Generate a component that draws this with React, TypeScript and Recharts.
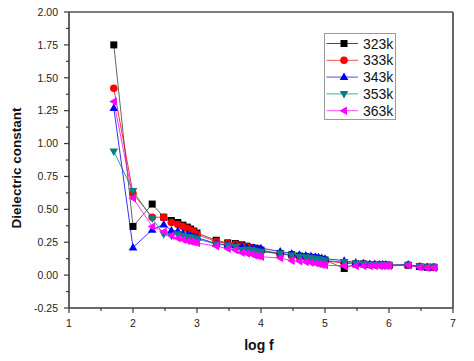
import React from 'react';
import { LineChart, Line, XAxis, YAxis, ReferenceLine } from 'recharts';

const logF = [1.7, 2, 2.3, 2.48, 2.6, 2.7, 2.78, 2.85, 2.9, 2.95, 3, 3.3, 3.48, 3.6, 3.7, 3.78, 3.85, 3.9, 3.95, 4, 4.3, 4.48, 4.6, 4.7, 4.78, 4.85, 4.9, 4.95, 5, 5.3, 5.48, 5.6, 5.7, 5.78, 5.85, 5.9, 5.95, 6, 6.3, 6.48, 6.6, 6.7];

const s323k = [1.75, 0.37, 0.54, 0.44, 0.415, 0.40, 0.38, 0.365, 0.35, 0.335, 0.32, 0.265, 0.245, 0.24, 0.23, 0.22, 0.21, 0.205, 0.20, 0.19, 0.165, 0.155, 0.145, 0.14, 0.135, 0.13, 0.125, 0.12, 0.115, 0.05, 0.085, 0.085, 0.08, 0.08, 0.08, 0.08, 0.075, 0.075, 0.075, 0.065, 0.06, 0.06];
const s333k = [1.42, 0.62, 0.44, 0.44, 0.40, 0.385, 0.37, 0.355, 0.34, 0.33, 0.31, 0.255, 0.24, 0.235, 0.22, 0.215, 0.205, 0.20, 0.195, 0.185, 0.16, 0.15, 0.14, 0.135, 0.13, 0.125, 0.12, 0.115, 0.11, 0.09, 0.085, 0.085, 0.08, 0.08, 0.08, 0.08, 0.075, 0.075, 0.075, 0.065, 0.06, 0.06];
const s343k = [1.27, 0.21, 0.345, 0.385, 0.34, 0.335, 0.32, 0.31, 0.30, 0.295, 0.285, 0.24, 0.23, 0.225, 0.215, 0.21, 0.205, 0.205, 0.20, 0.205, 0.18, 0.165, 0.155, 0.15, 0.145, 0.14, 0.135, 0.13, 0.125, 0.11, 0.095, 0.09, 0.085, 0.085, 0.08, 0.08, 0.08, 0.075, 0.08, 0.065, 0.06, 0.06];
const s353k = [0.94, 0.64, 0.43, 0.31, 0.30, 0.31, 0.30, 0.29, 0.285, 0.28, 0.275, 0.235, 0.225, 0.215, 0.19, 0.195, 0.19, 0.185, 0.18, 0.175, 0.165, 0.15, 0.14, 0.135, 0.13, 0.125, 0.12, 0.115, 0.11, 0.10, 0.09, 0.085, 0.08, 0.08, 0.08, 0.075, 0.075, 0.075, 0.075, 0.065, 0.06, 0.06];
const s363k = [1.32, 0.585, 0.37, 0.33, 0.30, 0.28, 0.27, 0.26, 0.255, 0.25, 0.245, 0.22, 0.20, 0.19, 0.17, 0.165, 0.16, 0.15, 0.145, 0.14, 0.13, 0.11, 0.105, 0.10, 0.095, 0.09, 0.085, 0.08, 0.075, 0.07, 0.07, 0.07, 0.07, 0.07, 0.07, 0.07, 0.07, 0.07, 0.075, 0.06, 0.055, 0.055];

const seriesNames = ['323k', '333k', '343k', '353k', '363k'];
const seriesValues = [s323k, s333k, s343k, s353k, s363k];
const seriesColors = ['#000000', '#ff0000', '#0000ff', '#008080', '#ff00ff'];
const seriesShapes = ['square', 'circle', 'up', 'down', 'left'];

const xTicks = [1, 1.5, 2, 2.5, 3, 3.5, 4, 4.5, 5, 5.5, 6, 6.5, 7];
const yTicks = [-0.25, -0.125, 0, 0.125, 0.25, 0.375, 0.5, 0.625, 0.75, 0.875, 1, 1.125, 1.25, 1.375, 1.5, 1.625, 1.75, 1.875, 2];

const data = logF.map((x, i) => {
  const row: Record<string, number> = { x };
  seriesNames.forEach((n, j) => { row[n] = seriesValues[j][i]; });
  return row;
});

const AXIS = '#3a3a3a';
const FONT = '"Liberation Sans", Arial, sans-serif';

function Marker({ shape, cx, cy, color }: { shape: string; cx: number; cy: number; color: string }) {
  if (shape === 'square') return <rect x={cx - 3.5} y={cy - 3.5} width={7} height={7} fill={color} />;
  if (shape === 'circle') return <circle cx={cx} cy={cy} r={3.8} fill={color} />;
  let pts = '';
  if (shape === 'up') pts = `${cx},${cy - 4.5} ${cx - 4.3},${cy + 3} ${cx + 4.3},${cy + 3}`;
  if (shape === 'down') pts = `${cx},${cy + 4.5} ${cx - 4.3},${cy - 3} ${cx + 4.3},${cy - 3}`;
  if (shape === 'left') pts = `${cx - 4.5},${cy} ${cx + 3},${cy - 4.3} ${cx + 3},${cy + 4.3}`;
  return <polygon points={pts} fill={color} />;
}

const makeDot = (shape: string, color: string) => (props: any) => {
  const { cx, cy, index } = props;
  if (cx == null || cy == null) return <g key={`d${index}`} />;
  return <g key={`d${shape}${index}`}><Marker shape={shape} cx={cx} cy={cy} color={color} /></g>;
};

const XTick = (props: any) => {
  const { x, y, payload } = props;
  const v = payload.value;
  const major = Number.isInteger(v);
  return (
    <g>
      <line x1={x} x2={x} y1={y} y2={y + (major ? 5 : 3)} stroke={AXIS} strokeWidth={1.2} />
      {major && (
        <text x={x} y={y + 18.5} textAnchor="middle" fontSize={10.5} fontFamily={FONT} fill="#222">{v}</text>
      )}
    </g>
  );
};

const YTick = (props: any) => {
  const { x, y, payload } = props;
  const v = payload.value;
  const major = Math.abs(v * 4 - Math.round(v * 4)) < 1e-6;
  return (
    <g>
      <line x1={x - (major ? 5 : 3)} x2={x} y1={y} y2={y} stroke={AXIS} strokeWidth={1.2} />
      {major && (
        <text x={x - 11} y={y + 3.8} textAnchor="end" fontSize={10.5} fontFamily={FONT} fill="#222">{v.toFixed(2)}</text>
      )}
    </g>
  );
};

const LegendBox = () => (
  <div style={{ position: 'absolute', left: 324, top: 33, border: '1px solid #999', width: 70, height: 85, background: '#fff' }}>
    <svg width={70} height={85} style={{ position: 'absolute', left: 0, top: 0 }}>
      {seriesNames.map((n, i) => {
        const cy = 9.5 + i * 16.8;
        return (
          <g key={n}>
            <line x1={1.5} x2={33} y1={cy} y2={cy} stroke={seriesColors[i]} strokeWidth={1} strokeOpacity={0.7} />
            <Marker shape={seriesShapes[i]} cx={19} cy={cy} color={seriesColors[i]} />
            <text x={38} y={cy + 5} fontSize={14} fontFamily={FONT} fill="#111">{n}</text>
          </g>
        );
      })}
    </svg>
  </div>
);

export default function App() {
  return (
    <div style={{ position: 'absolute', left: 0, top: 0, width: 474, height: 361, background: '#fff' }}>
      <LineChart width={474} height={361} data={data} margin={{ top: 12, right: 21, bottom: 0, left: 0 }}>
        <XAxis
          dataKey="x"
          type="number"
          domain={[1, 7]}
          ticks={xTicks}
          interval={0}
          tickSize={0}
          tickMargin={0}
          tickLine={false}
          tick={XTick}
          height={53}
          axisLine={{ stroke: AXIS, strokeWidth: 1.6 }}
        />
        <YAxis
          type="number"
          domain={[-0.25, 2]}
          ticks={yTicks}
          interval={0}
          tickSize={0}
          tickMargin={0}
          tickLine={false}
          tick={YTick}
          width={69}
          axisLine={{ stroke: AXIS, strokeWidth: 1.6 }}
        />
        <ReferenceLine y={2} stroke="#555" strokeWidth={1.6} ifOverflow="extendDomain" />
        <ReferenceLine x={7} stroke="#666" strokeWidth={2} ifOverflow="extendDomain" />
        {seriesNames.map((n, i) => (
          <Line
            key={n}
            dataKey={n}
            name={n}
            type="linear"
            stroke={seriesColors[i]}
            strokeWidth={1}
            strokeOpacity={i === 0 ? 0.6 : 0.8}
            dot={makeDot(seriesShapes[i], seriesColors[i])}
            activeDot={false}
            isAnimationActive={false}
          />
        ))}
        <text x={259} y={350} textAnchor="middle" fontSize={14} fontWeight="bold" fontFamily={FONT} fill="#111">log f</text>
        <text x={21} y={168} textAnchor="middle" fontSize={13.5} fontWeight="bold" fontFamily={FONT} fill="#111" transform="rotate(-90 21 168)">Dielectric constant</text>
      </LineChart>
      <LegendBox />
    </div>
  );
}
